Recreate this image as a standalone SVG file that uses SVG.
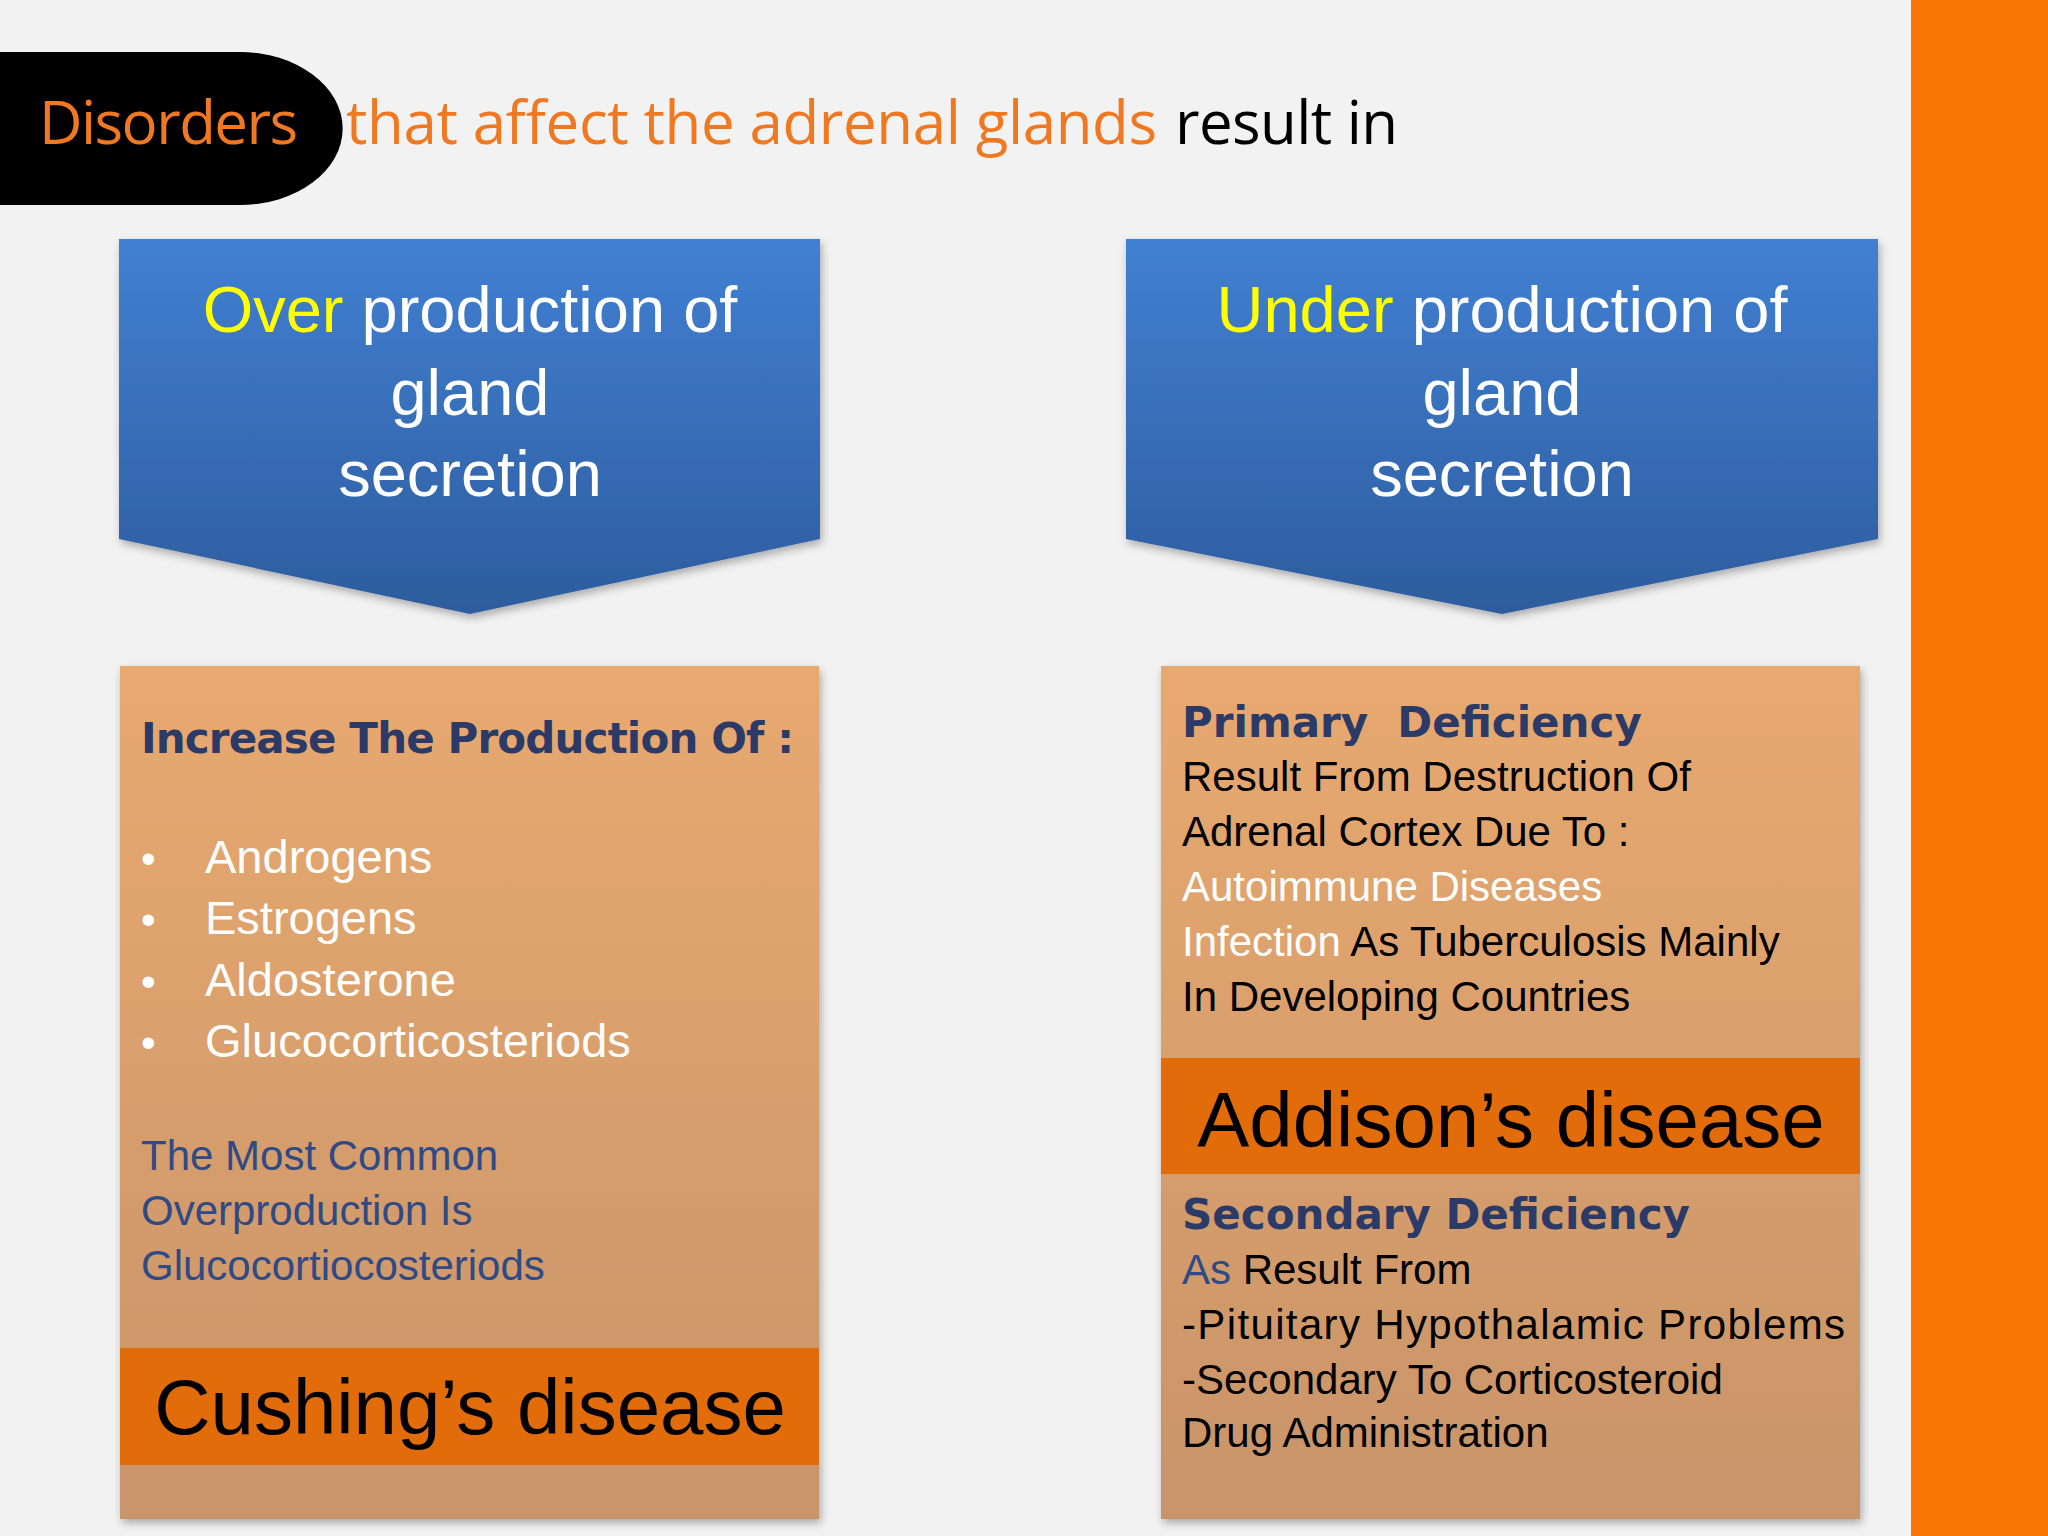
<svg xmlns="http://www.w3.org/2000/svg" width="2048" height="1536" viewBox="0 0 2048 1536">
<defs>
<linearGradient id="blue" x1="0" y1="0" x2="0" y2="1"><stop offset="0" stop-color="#4180d2"/><stop offset="1" stop-color="#2d5c9e"/></linearGradient>
<linearGradient id="tan" x1="0" y1="0" x2="0" y2="1"><stop offset="0" stop-color="#e8a96f"/><stop offset="1" stop-color="#c8946a"/></linearGradient>
<filter id="sh" x="-5%" y="-5%" width="110%" height="110%"><feDropShadow dx="2" dy="4" stdDeviation="4" flood-opacity="0.3"/></filter>
<style>
.t{font-family:"Open Sans","Liberation Sans",sans-serif;font-size:60px}
.h{font-family:"Liberation Sans",Arial,sans-serif;font-size:65px;fill:#fff;text-anchor:middle}
.b{font-family:"Liberation Sans",Arial,sans-serif;font-size:42px;fill:#000}
.bh{font-family:"DejaVu Sans",Verdana,sans-serif;font-weight:bold;font-size:42px;fill:#2b3a67}
.bl{fill:#2f4a85}
.w{fill:#fff}
.big{font-family:"Liberation Sans",Arial,sans-serif;font-size:78px;fill:#000;text-anchor:middle}
</style>
</defs>
<rect width="2048" height="1536" fill="#f2f2f2"/>
<rect x="1911" y="0" width="137" height="1536" fill="#fb7507"/>
<g id="title">
<path d="M0 52 H240 A102 76 0 0 1 240 205 H0 Z" fill="#000"/>
<text class="t" x="39" y="144" fill="#f07820" textLength="259">Disorders</text>
<text class="t" x="346" y="144" fill="#f07820" textLength="811">that affect the adrenal glands</text>
<text class="t" x="1175" y="144" fill="#000" textLength="223">result in</text>
</g>
<g id="over">
<path d="M119 239 H820 V539 L470 614 L119 539 Z" fill="url(#blue)" filter="url(#sh)"/>
<text class="h" x="470" y="332"><tspan fill="#ffff00">Over</tspan> production of</text>
<text class="h" x="470" y="415">gland</text>
<text class="h" x="470" y="496">secretion</text>
</g>
<g id="under">
<path d="M1126 239 H1878 V539 L1502 614 L1126 539 Z" fill="url(#blue)" filter="url(#sh)"/>
<text class="h" x="1502" y="332"><tspan fill="#ffff00">Under</tspan> production of</text>
<text class="h" x="1502" y="415">gland</text>
<text class="h" x="1502" y="496">secretion</text>
</g>
<g id="cushing">
<rect x="120" y="666" width="699" height="853" fill="url(#tan)" filter="url(#sh)"/>
<rect x="120" y="1348" width="699" height="117" fill="#e36c0a"/>
<text class="bh" x="141" y="753" textLength="653">Increase The Production Of :</text>
<g class="b w" font-size="47">
<text x="141" y="873" class="w">•</text><text x="205" y="873" font-size="47" class="w">Androgens</text>
<text x="141" y="934" class="w">•</text><text x="205" y="934" font-size="47" class="w">Estrogens</text>
<text x="141" y="996" class="w">•</text><text x="205" y="996" font-size="47" class="w">Aldosterone</text>
<text x="141" y="1057" class="w">•</text><text x="205" y="1057" font-size="47" class="w">Glucocorticosteriods</text>
</g>
<text class="b bl" x="141" y="1170">The Most Common</text>
<text class="b bl" x="141" y="1225">Overproduction Is</text>
<text class="b bl" x="141" y="1280">Glucocortiocosteriods</text>
<text class="big" x="470" y="1434">Cushing’s disease</text>
</g>
<g id="addison">
<rect x="1161" y="666" width="699" height="853" fill="url(#tan)" filter="url(#sh)"/>
<rect x="1161" y="1058" width="699" height="116" fill="#e36c0a"/>
<text class="bh" x="1182" y="737" xml:space="preserve">Primary  Deficiency</text>
<text class="b" x="1182" y="791">Result From Destruction Of</text>
<text class="b" x="1182" y="846">Adrenal Cortex Due To :</text>
<text class="b w" x="1182" y="901">Autoimmune Diseases</text>
<text class="b" x="1182" y="956"><tspan class="w">Infection</tspan> As Tuberculosis Mainly</text>
<text class="b" x="1182" y="1011">In Developing Countries</text>
<text class="big" x="1511" y="1147">Addison’s disease</text>
<text class="bh" x="1182" y="1229">Secondary Deficiency</text>
<text class="b" x="1182" y="1284"><tspan class="bl">As</tspan> Result From</text>
<text class="b" x="1182" y="1339" textLength="663">-Pituitary Hypothalamic Problems</text>
<text class="b" x="1182" y="1394">-Secondary To Corticosteroid</text>
<text class="b" x="1182" y="1447">Drug Administration</text>
</g>
</svg>
